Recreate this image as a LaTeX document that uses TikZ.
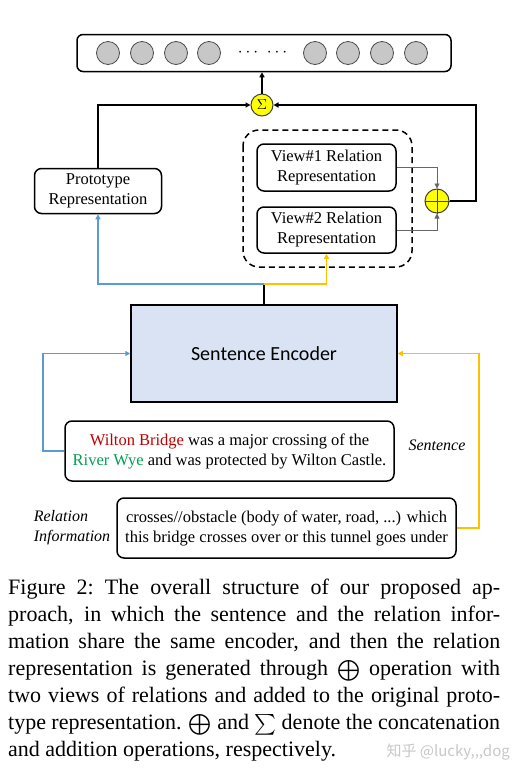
\documentclass[tikz,border=0pt]{standalone}
\usepackage{amsmath}
\usepackage{fontspec}
\setmainfont{Liberation Serif}
\newfontfamily\encfont{Carlito}
\newfontfamily\cjk{Noto Sans CJK SC}
\usetikzlibrary{arrows.meta}
\definecolor{encblue}{RGB}{218,227,243}
\definecolor{lineblue}{RGB}{91,155,213}
\definecolor{lineyellow}{RGB}{255,192,0}
\definecolor{opyellow}{RGB}{255,255,0}
\definecolor{wordred}{RGB}{192,0,0}
\definecolor{wordgreen}{RGB}{0,160,80}

\begin{document}
\begin{tikzpicture}[x=1pt,y=1pt]
\tikzstyle{every node}+=[inner sep=0pt]
\tikzstyle{tip}=[-{Triangle[length=5pt,width=5pt]}]
\tikzstyle{rbox}=[draw, line width=1.5pt, rounded corners=7pt, align=center, font=\fontsize{16.5}{20}\selectfont]
\tikzstyle{unit}=[circle, draw=black!70, fill=black!22, line width=0.8pt, minimum size=23pt]
\tikzstyle{op}=[circle, draw=black!75, fill=opyellow, line width=1pt, minimum size=22pt]
\useasboundingbox (0,0) rectangle (525,-772);
% output layer
\node [draw, line width=1.5pt, rounded corners=6pt, minimum width=374pt, minimum height=37pt] (bar) at (264,-53) {};
\node [unit] (u1) at (108,-53) {};
\node [unit] (u2) at (142,-53) {};
\node [unit] (u3) at (176,-53) {};
\node [unit] (u4) at (209,-53) {};
\node [font=\fontsize{17}{17}\selectfont] (dots) at (264,-53) {$\cdots$\hspace{6pt}$\cdots$};
\node [unit] (u5) at (315,-53) {};
\node [unit] (u6) at (348,-53) {};
\node [unit] (u7) at (382,-53) {};
\node [unit] (u8) at (416,-53) {};
\node [op] (sum) at (262,-105) {\fontsize{14}{14}\selectfont$\Sigma$};
% representations
\node [rbox, minimum width=127pt, minimum height=45pt] (proto) at (98,-191) {Prototype\\Representation};
\draw [dashed, line width=1.5pt, dash pattern=on 6pt off 4pt, rounded corners=16pt] (243,-130) rectangle (412,-267);
\node [rbox, minimum width=139pt, minimum height=47pt] (view1) at (326.5,-167.5) {View\#1 Relation\\Representation};
\node [rbox, minimum width=139pt, minimum height=46pt] (view2) at (326.5,-230) {View\#2 Relation\\Representation};
\node [op, minimum size=24pt] (cat) at (437,-201) {};
\draw [black!75, line width=1pt] (cat.north) -- (cat.south);
\draw [black!75, line width=1pt] (cat.west) -- (cat.east);
% encoder and inputs
\node [draw, line width=1.5pt, fill=encblue, minimum width=266pt, minimum height=97pt, font=\encfont\fontsize{20}{24}\selectfont] (enc) at (264,-353.5) {Sentence Encoder};
\node [rbox, minimum width=329pt, minimum height=60pt] (sent) at (229.5,-451) {\textcolor{wordred}{Wilton Bridge} was a major crossing of the\\\textcolor{wordgreen}{River Wye} and was protected by Wilton Castle.};
\node [rbox, minimum width=339pt, minimum height=60pt] (rel) at (286.5,-528) {crosses//obstacle (body of water, road, ...) which\\this bridge crosses over or this tunnel goes under};
\node [font=\itshape\fontsize{16}{20}\selectfont] (sentlab) at (437,-445) {Sentence};
\node [font=\itshape\fontsize{16}{20}\selectfont, align=left] (rellab) at (72,-528) {Relation\\Information};
% connectors
\coordinate (split) at (264,-284);
\coordinate (rt) at (476,-105);
\coordinate (bl) at (43,-451);
\coordinate (yr) at (479,-528);
\draw [tip, line width=1.8pt] (sum) -- (sum |- bar.south);
\draw [tip, line width=1.8pt] (proto.north) |- (sum.west);
\draw [tip, line width=1.8pt] (cat.east) -| (rt) -- (sum.east);
\draw [tip, black!60, line width=0.9pt] (view1.east) -| (cat.north);
\draw [tip, black!60, line width=0.9pt] (view2.east) -| (cat.south);
\draw [line width=1.8pt] (enc.north) -- (split);
\draw [tip, lineblue, line width=1.6pt] (split) -| (proto.south);
\draw [tip, lineyellow, line width=1.6pt] (split) -| (view2.south);
\draw [tip, lineblue, line width=1.6pt] (sent.west) -- (bl) |- (enc.west);
\draw [tip, lineyellow, line width=1.6pt] (rel.east) -- (yr) |- (enc.east);
% caption
\node [anchor=north west, text width=492pt, align=justify, font=\fontsize{22}{27}\selectfont] (caption) at (8,-579) {Figure 2:\ The overall structure of our proposed ap-\linebreak proach, in which the sentence and the relation infor-\linebreak mation share the same encoder, and then the relation\linebreak representation is generated through $\bigoplus$ operation with\linebreak two views of relations and added to the original proto-\linebreak type representation. $\bigoplus$ and $\sum$ denote the concatenation\linebreak and addition operations, respectively.};
\node [anchor=east, text=black!22, font=\cjk\fontsize{15}{15}\selectfont] (mark) at (510,-752) {知乎 @lucky,,,dog};
\end{tikzpicture}
\end{document}
